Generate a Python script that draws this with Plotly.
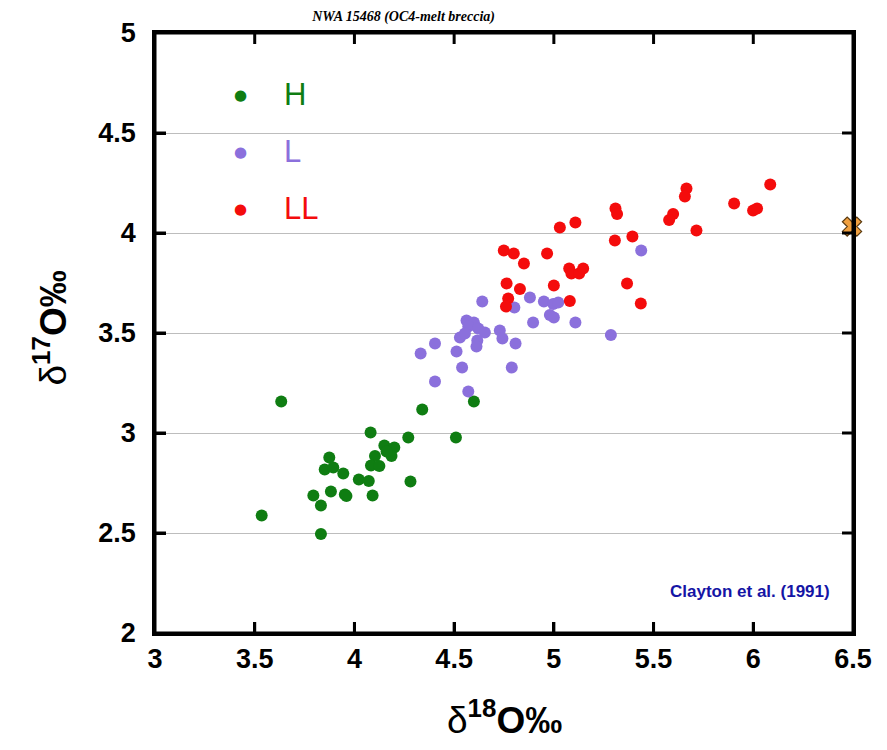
import plotly.graph_objects as go

# H chondrites
h_x = [3.633, 4.340, 4.081, 4.270, 4.509, 3.874, 3.851, 3.894, 3.944, 4.150, 4.200, 4.186,
       4.161, 4.103, 4.083, 4.125, 4.022, 4.072, 4.281, 3.882, 3.952, 3.960, 4.091, 3.794,
       3.832, 3.535, 3.832, 4.599]
h_y = [3.157, 3.117, 3.002, 2.977, 2.977, 2.877, 2.818, 2.827, 2.798, 2.937, 2.927, 2.885,
       2.907, 2.885, 2.837, 2.835, 2.768, 2.760, 2.757, 2.707, 2.693, 2.685, 2.687, 2.687,
       2.637, 2.587, 2.495, 3.157]

# L chondrites
l_x = [4.641, 4.802, 4.880, 4.950, 4.997, 5.022, 4.980, 5.000, 4.896, 5.108, 5.286, 4.562,
       4.599, 4.571, 4.621, 4.654, 4.729, 4.742, 4.808, 4.529, 4.554, 4.616, 4.612, 4.404,
       4.332, 4.512, 4.540, 4.789, 4.404, 4.571, 5.438]
l_y = [3.658, 3.628, 3.678, 3.658, 3.645, 3.652, 3.590, 3.578, 3.552, 3.552, 3.490, 3.562,
       3.552, 3.532, 3.523, 3.503, 3.512, 3.473, 3.448, 3.477, 3.498, 3.462, 3.432, 3.448,
       3.398, 3.407, 3.327, 3.327, 3.257, 3.207, 3.912]

# LL chondrites
ll_x = [5.309, 5.317, 5.108, 5.030, 5.306, 5.394, 4.749, 4.799, 4.966, 4.850, 5.077, 5.088,
        5.127, 5.147, 4.763, 4.830, 5.000, 5.367, 4.771, 4.760, 5.080, 5.436, 5.665, 5.657,
        5.598, 5.578, 5.715, 5.904, 5.999, 6.019, 6.085]
ll_y = [4.123, 4.095, 4.052, 4.028, 3.962, 3.982, 3.912, 3.898, 3.898, 3.848, 3.823, 3.798,
        3.798, 3.823, 3.748, 3.720, 3.737, 3.748, 3.673, 3.632, 3.660, 3.648, 4.223, 4.182,
        4.095, 4.065, 4.012, 4.148, 4.112, 4.122, 4.242]

# NWA 15468
nwa_x = [6.495]
nwa_y = [4.032]

x_ticks = [3, 3.5, 4, 4.5, 5, 5.5, 6, 6.5]
y_ticks = [2, 2.5, 3, 3.5, 4, 4.5, 5]

GREEN = "#0f7d12"
PURPLE = "#8b70dc"
RED = "#f40c0c"
SERIES = [("H", h_x, h_y, GREEN), ("L", l_x, l_y, PURPLE), ("LL", ll_x, ll_y, RED)]

fig = go.Figure()
for name, xs, ys, col in SERIES:
    fig.add_trace(go.Scatter(x=xs, y=ys, mode="markers", name=name,
                             marker=dict(size=12, color=col)))

fig.add_trace(go.Scatter(
    x=nwa_x, y=nwa_y, mode="markers", name="NWA 15468", cliponaxis=False,
    marker=dict(symbol="x", size=17, color="#f0a040", line=dict(color="#5a3a10", width=1.2)),
))

axis_common = dict(
    showline=True, linecolor="black", linewidth=3, mirror=True,
    ticks="inside", tickcolor="black", tickwidth=3, ticklen=11,
    tickfont=dict(family="Liberation Sans, Arial", size=27, color="black", weight="bold"),
    zeroline=False, automargin=False,
)

TITLE_FONT = dict(family="Liberation Sans, Arial", size=37, color="black")

annotations = [
    dict(text="Clayton et al. (1991)", xref="paper", yref="paper", x=0.97, y=0.07,
         xanchor="right", yanchor="middle", showarrow=False,
         font=dict(family="Liberation Sans, Arial", size=17, color="#1515a5", weight="bold")),
    dict(text="δ<sup><b>18</b></sup><b>O‰</b>", xref="paper", yref="paper", x=0.5, y=-0.14,
         xanchor="center", yanchor="middle", showarrow=False, font=TITLE_FONT),
    dict(text="δ<sup><b>17</b></sup><b>O‰</b>", xref="paper", yref="paper", x=-0.15, y=0.508,
         xanchor="center", yanchor="middle", showarrow=False, textangle=-90, font=TITLE_FONT),
]
# in-plot key (legend)
for i, (name, _, _, col) in enumerate(SERIES):
    ky = 0.8967 - i * 0.095
    annotations.append(dict(text="●", xref="paper", yref="paper", x=0.1218, y=ky,
                            xanchor="center", yanchor="middle", showarrow=False,
                            font=dict(family="DejaVu Sans", size=15, color=col)))
    annotations.append(dict(text=name, xref="paper", yref="paper", x=0.182, y=ky,
                            xanchor="left", yanchor="middle", showarrow=False,
                            font=dict(family="Liberation Sans, Arial", size=31, color=col)))

# plot frame and inside tick marks on all four sides
shapes = [dict(type="rect", xref="paper", yref="paper", x0=0, x1=1, y0=0, y1=1,
               line=dict(color="black", width=3), layer="above")]
for v in x_ticks[1:-1]:
    shapes.append(dict(type="line", xref="x", yref="paper", ysizemode="pixel", yanchor=0,
                       x0=v, x1=v, y0=0, y1=11, line=dict(color="black", width=3)))
    shapes.append(dict(type="line", xref="x", yref="paper", ysizemode="pixel", yanchor=1,
                       x0=v, x1=v, y0=0, y1=-11, line=dict(color="black", width=3)))
for v in y_ticks[1:-1]:
    shapes.append(dict(type="line", xref="paper", yref="y", xsizemode="pixel", xanchor=0,
                       y0=v, y1=v, x0=0, x1=11, line=dict(color="black", width=3)))
    shapes.append(dict(type="line", xref="paper", yref="y", xsizemode="pixel", xanchor=1,
                       y0=v, y1=v, x0=0, x1=-11, line=dict(color="black", width=3)))

fig.update_layout(
    template="none",
    width=887, height=750,
    margin=dict(l=155, r=34, t=33, b=117),
    paper_bgcolor="white", plot_bgcolor="white",
    showlegend=False,
    title=dict(
        text="NWA 15468 (OC4-melt breccia)", x=0.455, xanchor="center", y=0.985, yanchor="top",
        font=dict(family="Liberation Serif, Times New Roman", size=14, color="black",
                  weight="bold", style="italic"),
    ),
    xaxis=dict(
        range=[3, 6.5], tickvals=x_ticks, ticktext=[f"{v:g}" for v in x_ticks],
        showgrid=False, **axis_common,
    ),
    yaxis=dict(
        range=[2, 5], tickvals=y_ticks, ticktext=[f"{v:g}\u2009\u2009" for v in y_ticks],
        showgrid=True, gridcolor="#bdbdbd", gridwidth=1, **axis_common,
    ),
    annotations=annotations,
    shapes=shapes,
)

fig.write_html("out.html")
